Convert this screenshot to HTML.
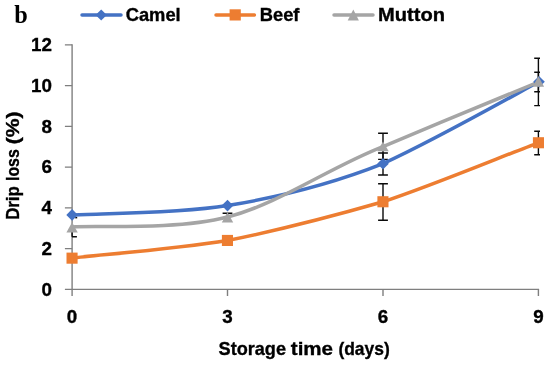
<!DOCTYPE html>
<html>
<head>
<meta charset="utf-8">
<title>Drip loss chart</title>
<style>
html,body{margin:0;padding:0;background:#fff;}
body{width:550px;height:365px;overflow:hidden;}
svg{display:block;}
text{font-family:"Liberation Sans",sans-serif;font-weight:bold;fill:#000;stroke:#000;stroke-width:0.35;}
.s{font-family:"Liberation Serif",serif;font-weight:bold;stroke:none;}
</style>
</head>
<body>
<svg width="550" height="365" viewBox="0 0 550 365">
<rect width="550" height="365" fill="#fff"/>
<text class="s" x="14.2" y="22.5" font-size="24.3">b</text>
<g>
<line x1="82" y1="15" x2="121" y2="15" stroke="#4472C4" stroke-width="3.5" stroke-linecap="round"/>
<g fill="#4472C4"><path d="M101.2,9.4 L106.8,15.0 L101.2,20.6 L95.6,15.0 Z"/></g>
<text x="125.7" y="20.7" font-size="18.2" textLength="55" lengthAdjust="spacingAndGlyphs">Camel</text>
<line x1="216" y1="15" x2="254.4" y2="15" stroke="#ED7D31" stroke-width="3.5" stroke-linecap="round"/>
<g fill="#ED7D31"><rect x="229.6" y="9.3" width="11.2" height="11.2"/></g>
<text x="259.8" y="20.7" font-size="18.2" textLength="39.6" lengthAdjust="spacingAndGlyphs">Beef</text>
<line x1="334" y1="15" x2="373" y2="15" stroke="#A5A5A5" stroke-width="3.5" stroke-linecap="round"/>
<g fill="#A5A5A5"><path d="M353.3,9.5 L358.9,20.4 L347.7,20.4 Z"/></g>
<text x="378" y="20.7" font-size="18.2" textLength="67" lengthAdjust="spacingAndGlyphs">Mutton</text>
</g>
<g stroke="#7F7F7F" stroke-width="1.4" fill="none">
<path d="M72.1,44.2 V295.9"/>
<path d="M64.9,289.4 H539.1"/>
<path d="M64.9,44.90 H72.1 M64.9,85.65 H72.1 M64.9,126.40 H72.1 M64.9,167.15 H72.1 M64.9,207.90 H72.1 M64.9,248.65 H72.1"/>
<path d="M227.5,289.4 V295.9 M383,289.4 V295.9 M538.4,289.4 V295.9"/>
</g>
<g font-size="18.8" text-anchor="end">
<text x="52" y="51.1">12</text>
<text x="52" y="91.9">10</text>
<text x="52" y="132.6">8</text>
<text x="52" y="173.3">6</text>
<text x="52" y="214.1">4</text>
<text x="52" y="254.8">2</text>
<text x="52" y="295.6">0</text>
</g>
<g font-size="18.8" text-anchor="middle">
<text x="72" y="323">0</text>
<text x="227.5" y="323">3</text>
<text x="383" y="323">6</text>
<text x="538.4" y="323">9</text>
</g>
<text y="355.2" font-size="19"><tspan x="218.6" textLength="67.4" lengthAdjust="spacingAndGlyphs">Storage</tspan> <tspan x="290.8" textLength="42.2" lengthAdjust="spacingAndGlyphs">time</tspan> <tspan x="338.4" textLength="51.4" lengthAdjust="spacingAndGlyphs">(days)</tspan></text>
<text transform="translate(18.6,0) rotate(-90)" font-size="18.4" y="0"><tspan x="-219.8" textLength="33.6" lengthAdjust="spacingAndGlyphs">Drip</tspan> <tspan x="-181" textLength="31.8" lengthAdjust="spacingAndGlyphs">loss</tspan> <tspan x="-144.2" textLength="32.8" lengthAdjust="spacingAndGlyphs">(%)</tspan></text>
<g stroke="#0a0a0a" stroke-width="1.4" fill="none">
<path d="M75.2,217.7 H77.2"/>
<path d="M383.0,153.0 V175.0 M378.1,153.0 H387.9 M378.1,175.0 H387.9"/>
<path d="M538.4,72.2 V91.8 M534.2,72.2 H540.0 M534.2,91.8 H540.0"/>
<path d="M72.1,232.0 V236.7 M72.1,236.7 H76.9"/>
<path d="M227.5,213.2 V221.0 M222.6,213.2 H232.4"/>
<path d="M383.0,133.2 V159.4 M378.1,133.2 H387.9 M378.1,159.4 H387.9"/>
<path d="M538.4,58.2 V105.6 M534.2,58.2 H540.0 M534.2,105.6 H540.0"/>
<path d="M383.0,183.8 V220.2 M378.1,183.8 H387.9 M378.1,220.2 H387.9"/>
<path d="M538.4,131.3 V154.7 M534.2,131.3 H540.0 M534.2,154.7 H540.0"/>
</g>
<g fill="none" stroke-width="3.5" stroke-linecap="round" stroke-linejoin="round">
<path stroke="#4472C4" d="M72.10,214.90 C98.00,213.35 175.68,214.13 227.50,205.60 C279.32,197.07 331.18,184.30 383.00,163.70 C434.82,140.00 512.50,96.00 538.40,82.00"/>
<path stroke="#ED7D31" d="M72.10,258.10 C98.00,255.00 175.68,248.90 227.50,240.50 C279.32,230.10 331.18,216.70 383.00,201.80 C434.82,184.60 512.50,152.10 538.40,142.80"/>
<path stroke="#A5A5A5" d="M72.10,226.90 C98.00,225.25 175.68,230.35 227.50,217.00 C279.32,203.65 331.18,166.50 383.00,146.60 C434.82,124.60 512.50,92.80 538.40,82.00"/>
</g>
<g fill="#4472C4">
<path d="M72.1,209.1 L77.9,214.9 L72.1,220.7 L66.3,214.9 Z"/>
<path d="M227.5,199.8 L233.3,205.6 L227.5,211.4 L221.7,205.6 Z"/>
<path d="M383.0,157.9 L388.8,163.7 L383.0,169.5 L377.2,163.7 Z"/>
<path d="M539.0,75.9 L544.8,81.7 L539.0,87.5 L533.2,81.7 Z"/>
</g>
<g fill="#ED7D31">
<rect x="66.5" y="252.6" width="11.1" height="11.1"/>
<rect x="221.9" y="234.9" width="11.1" height="11.1"/>
<rect x="377.4" y="196.2" width="11.1" height="11.1"/>
<rect x="532.9" y="137.2" width="11.1" height="11.1"/>
</g>
<g fill="#A5A5A5">
<path d="M72.1,222.3 L77.8,232.4 L66.4,232.4 Z"/>
<path d="M227.5,212.3 L233.2,222.6 L221.8,222.6 Z"/>
<path d="M383.0,141.6 L388.7,151.3 L377.3,151.3 Z"/>
<path d="M538.4,76.2 L544.1,86.7 L532.7,86.7 Z"/>
</g>
</svg>
</body>
</html>
